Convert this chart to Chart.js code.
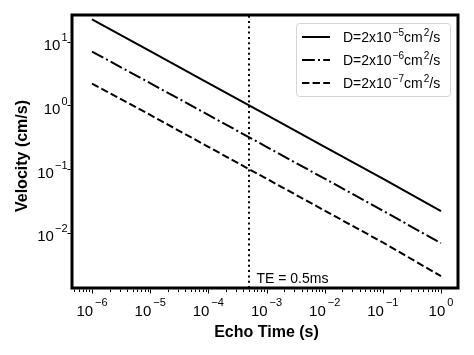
<!DOCTYPE html>
<html><head><meta charset="utf-8">
<script src="https://cdn.jsdelivr.net/npm/chart.js@4.4.1/dist/chart.umd.min.js"></script>
<style>html,body{margin:0;padding:0;background:#fff;} #wrap{width:474px;height:355px;position:relative;}</style>
</head><body><div id="wrap"><canvas id="c" width="474" height="355"></canvas></div>
<script>
// ---- data ----
const echoTimes = [1e-6, 1e-5, 1e-4, 1e-3, 1e-2, 1e-1, 1];
const velD2e5 = [22.4, 7.1, 2.24, 0.71, 0.224, 0.071, 0.022];
const velD2e6 = [7.0, 2.24, 0.71, 0.224, 0.071, 0.0224, 0.0069];
const velD2e7 = [2.2, 0.71, 0.224, 0.071, 0.0224, 0.0071, 0.0021];
const seriesLabels = ['D=2x10^{-5}cm^{2}/s', 'D=2x10^{-6}cm^{2}/s', 'D=2x10^{-7}cm^{2}/s'];
const teTime = 5e-4;
const teLabel = 'TE = 0.5ms';
const xTickValues = [1e-6, 1e-5, 1e-4, 1e-3, 1e-2, 1e-1, 1];
const xTickLabels = ['10^{-6}', '10^{-5}', '10^{-4}', '10^{-3}', '10^{-2}', '10^{-1}', '10^{0}'];
const yTickValues = [10, 1, 0.1, 0.01];
const yTickLabels = ['10^{1}', '10^{0}', '10^{-1}', '10^{-2}'];
const xRange = [4.53e-7, 1.96];
const yRange = [1.37e-3, 26.2];
const xTitle = 'Echo Time (s)';
const yTitle = 'Velocity (cm/s)';

// ---- styles ----
const FONT = "'Liberation Sans', Arial, sans-serif";
const dashes = [[], [12.8, 3.2, 2, 3.2], [7.4, 3.2]];
const teDash = [2, 3.3];

function pts(xs, ys) { return xs.map((x, i) => ({ x: x, y: ys[i] })); }

function parseMath(s) {
  const parts = [];
  const re = /\^\{([^}]*)\}/g;
  let last = 0, m;
  while ((m = re.exec(s)) !== null) {
    if (m.index > last) parts.push([s.slice(last, m.index), false]);
    parts.push([m[1].replace('-', '\u2212'), true]);
    last = re.lastIndex;
  }
  if (last < s.length) parts.push([s.slice(last), false]);
  return parts;
}
function mathWidth(ctx, parts, bs, ss, gap) {
  let w = 0;
  parts.forEach(p => { ctx.font = (p[1] ? ss : bs) + 'px ' + FONT; w += ctx.measureText(p[0]).width + (p[1] ? gap : 0); });
  return w;
}
function drawMath(ctx, parts, x, y, bs, ss, raise, gap) {
  parts.forEach(p => {
    ctx.font = (p[1] ? ss : bs) + 'px ' + FONT;
    if (p[1]) x += gap;
    ctx.fillText(p[0], x, p[1] ? y - raise : y);
    x += ctx.measureText(p[0]).width;
  });
}

const decor = {
  id: 'decor',
  afterDraw(chart) {
    const ctx = chart.ctx, a = chart.chartArea;
    const xs = chart.scales.x, ys = chart.scales.y;
    ctx.save();
    ctx.fillStyle = '#000'; ctx.strokeStyle = '#000';
    ctx.textAlign = 'left'; ctx.textBaseline = 'alphabetic';
    // ticks x
    ctx.lineWidth = 1;
    for (let e = -7; e <= 0; e++) {
      for (let k = 1; k <= 9; k++) {
        const v = k * Math.pow(10, e);
        if (v < xRange[0] || v > xRange[1]) continue;
        const px = Math.round(xs.getPixelForValue(v)) + 0.5;
        ctx.beginPath(); ctx.moveTo(px, a.bottom + 1.5); ctx.lineTo(px, a.bottom + 1.5 + (k === 1 ? 4 : 2.5)); ctx.stroke();
      }
    }
    // ticks y
    yTickValues.forEach(v => {
      const py = Math.round(ys.getPixelForValue(v)) + 0.5;
      ctx.beginPath(); ctx.moveTo(a.left - 1.5, py); ctx.lineTo(a.left - 4.5, py); ctx.stroke();
    });
    // x tick labels
    xTickValues.forEach((v, i) => {
      const parts = parseMath(xTickLabels[i]);
      const w = mathWidth(ctx, parts, 15, 11, 2);
      const px = xs.getPixelForValue(v);
      drawMath(ctx, parts, px - w / 2, 316, 15, 11, 10.5, 2);
    });
    // y tick labels
    yTickValues.forEach((v, i) => {
      const parts = parseMath(yTickLabels[i]);
      const w = mathWidth(ctx, parts, 15, 11, 1);
      const py = ys.getPixelForValue(v);
      drawMath(ctx, parts, 67.5 - w, py + 8.5, 15, 11, 9, 1);
    });
    // titles
    ctx.font = 'bold 16px ' + FONT;
    ctx.textAlign = 'center';
    ctx.fillText(xTitle, 266.5, 337);
    ctx.save(); ctx.translate(27, 156); ctx.rotate(-Math.PI / 2); ctx.fillText(yTitle, 0, 0); ctx.restore();
    // TE label
    ctx.textAlign = 'left';
    ctx.font = '14px ' + FONT;
    ctx.fillText(teLabel, xs.getPixelForValue(teTime) + 7.5, 282.5);
    // legend
    ctx.fillStyle = 'rgba(255,255,255,0.8)';
    ctx.strokeStyle = '#d4d4d4'; ctx.lineWidth = 1;
    ctx.beginPath(); ctx.roundRect(296.5, 23.5, 154, 73, 3); ctx.fill(); ctx.stroke();
    const rowY = [37, 60, 83];
    seriesLabels.forEach((lab, i) => {
      ctx.strokeStyle = '#000'; ctx.lineWidth = 2; ctx.setLineDash(dashes[i]);
      ctx.beginPath(); ctx.moveTo(302, rowY[i]); ctx.lineTo(330, rowY[i]); ctx.stroke();
      ctx.setLineDash([]);
      ctx.fillStyle = '#000';
      drawMath(ctx, parseMath(lab), 343, rowY[i] + 5, 14, 10, 6, 1);
    });
    // frame
    ctx.strokeStyle = '#000'; ctx.lineWidth = 3;
    ctx.strokeRect(a.left, a.top, a.right - a.left, a.bottom - a.top);
    ctx.restore();
  }
};

const seriesData = [velD2e5, velD2e6, velD2e7];
const datasets = seriesData.map((vals, i) => ({
  label: seriesLabels[i],
  data: pts(echoTimes, vals),
  borderColor: '#000', borderWidth: 2, borderDash: dashes[i],
  pointRadius: 0, fill: false, tension: 0
}));
datasets.push({
  label: teLabel,
  data: [{ x: teTime, y: yRange[0] }, { x: teTime, y: yRange[1] }],
  borderColor: '#000', borderWidth: 2, borderDash: teDash,
  pointRadius: 0, fill: false
});

new Chart(document.getElementById('c'), {
  type: 'line',
  data: { datasets: datasets },
  options: {
    responsive: false, animation: false, devicePixelRatio: 1,
    layout: { padding: { left: 72, right: 16, top: 15, bottom: 67 } },
    plugins: { legend: { display: false }, tooltip: { enabled: false } },
    scales: {
      x: { type: 'logarithmic', min: xRange[0], max: xRange[1], display: false },
      y: { type: 'logarithmic', min: yRange[0], max: yRange[1], display: false }
    }
  },
  plugins: [decor]
});
</script>
</body></html>
